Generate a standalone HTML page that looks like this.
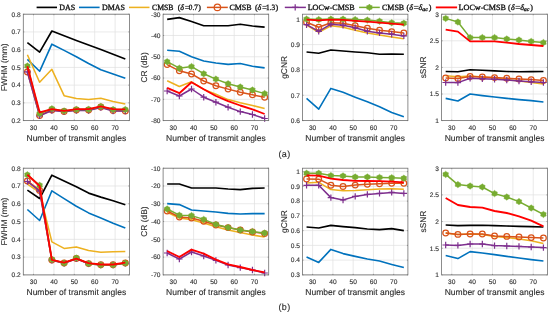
<!DOCTYPE html>
<html><head><meta charset="utf-8"><style>
html,body{margin:0;padding:0;background:#fff;width:550px;height:312px;overflow:hidden}
svg{display:block;font-family:"Liberation Sans",sans-serif;filter:blur(0.3px)}
.t{fill:#2a2a2a;stroke:#2a2a2a;stroke-width:0.12px}
.tk{fill:#333;stroke:#333;stroke-width:0.14px}
text{text-rendering:geometricPrecision}
.lg{font-family:"Liberation Serif",serif;fill:#111;stroke:#111;stroke-width:0.32px}
</style></head><body>
<svg width="550" height="312" viewBox="0 0 550 312">
<line x1="33.50" y1="14.20" x2="33.50" y2="120.60" stroke="#e0e0e0" stroke-width="0.7"/>
<line x1="53.91" y1="14.20" x2="53.91" y2="120.60" stroke="#e0e0e0" stroke-width="0.7"/>
<line x1="74.31" y1="14.20" x2="74.31" y2="120.60" stroke="#e0e0e0" stroke-width="0.7"/>
<line x1="94.71" y1="14.20" x2="94.71" y2="120.60" stroke="#e0e0e0" stroke-width="0.7"/>
<line x1="115.12" y1="14.20" x2="115.12" y2="120.60" stroke="#e0e0e0" stroke-width="0.7"/>
<line x1="23.30" y1="120.60" x2="129.40" y2="120.60" stroke="#e0e0e0" stroke-width="0.7"/>
<line x1="23.30" y1="102.87" x2="129.40" y2="102.87" stroke="#e0e0e0" stroke-width="0.7"/>
<line x1="23.30" y1="85.13" x2="129.40" y2="85.13" stroke="#e0e0e0" stroke-width="0.7"/>
<line x1="23.30" y1="67.40" x2="129.40" y2="67.40" stroke="#e0e0e0" stroke-width="0.7"/>
<line x1="23.30" y1="49.67" x2="129.40" y2="49.67" stroke="#e0e0e0" stroke-width="0.7"/>
<line x1="23.30" y1="31.93" x2="129.40" y2="31.93" stroke="#e0e0e0" stroke-width="0.7"/>
<line x1="23.30" y1="14.20" x2="129.40" y2="14.20" stroke="#e0e0e0" stroke-width="0.7"/>
<text x="33.50" y="129.90" font-size="6.6" text-anchor="middle" class="tk">30</text>
<path d="M33.50 120.60v-1.0M33.50 14.20v1.0" stroke="#707070" stroke-width="0.7"/>
<text x="53.91" y="129.90" font-size="6.6" text-anchor="middle" class="tk">40</text>
<path d="M53.91 120.60v-1.0M53.91 14.20v1.0" stroke="#707070" stroke-width="0.7"/>
<text x="74.31" y="129.90" font-size="6.6" text-anchor="middle" class="tk">50</text>
<path d="M74.31 120.60v-1.0M74.31 14.20v1.0" stroke="#707070" stroke-width="0.7"/>
<text x="94.71" y="129.90" font-size="6.6" text-anchor="middle" class="tk">60</text>
<path d="M94.71 120.60v-1.0M94.71 14.20v1.0" stroke="#707070" stroke-width="0.7"/>
<text x="115.12" y="129.90" font-size="6.6" text-anchor="middle" class="tk">70</text>
<path d="M115.12 120.60v-1.0M115.12 14.20v1.0" stroke="#707070" stroke-width="0.7"/>
<text x="20.70" y="122.95" font-size="6.6" text-anchor="end" class="tk">0.2</text>
<path d="M23.30 120.60h1.0M129.40 120.60h-1.0" stroke="#707070" stroke-width="0.7"/>
<text x="20.70" y="105.22" font-size="6.6" text-anchor="end" class="tk">0.3</text>
<path d="M23.30 102.87h1.0M129.40 102.87h-1.0" stroke="#707070" stroke-width="0.7"/>
<text x="20.70" y="87.48" font-size="6.6" text-anchor="end" class="tk">0.4</text>
<path d="M23.30 85.13h1.0M129.40 85.13h-1.0" stroke="#707070" stroke-width="0.7"/>
<text x="20.70" y="69.75" font-size="6.6" text-anchor="end" class="tk">0.5</text>
<path d="M23.30 67.40h1.0M129.40 67.40h-1.0" stroke="#707070" stroke-width="0.7"/>
<text x="20.70" y="52.02" font-size="6.6" text-anchor="end" class="tk">0.6</text>
<path d="M23.30 49.67h1.0M129.40 49.67h-1.0" stroke="#707070" stroke-width="0.7"/>
<text x="20.70" y="34.28" font-size="6.6" text-anchor="end" class="tk">0.7</text>
<path d="M23.30 31.93h1.0M129.40 31.93h-1.0" stroke="#707070" stroke-width="0.7"/>
<text x="20.70" y="16.55" font-size="6.6" text-anchor="end" class="tk">0.8</text>
<path d="M23.30 14.20h1.0M129.40 14.20h-1.0" stroke="#707070" stroke-width="0.7"/>
<text x="76.35" y="140.90" font-size="8.5" text-anchor="middle" class="t">Number of transmit angles</text>
<text transform="translate(7.40,67.40) rotate(-90)" x="0" y="0" font-size="8.4" text-anchor="middle" class="t">FWHM (mm)</text>
<polyline points="27.38,42.60 39.62,52.10 51.87,31.00 64.11,35.70 76.35,40.40 88.59,45.00 100.83,49.60 113.08,54.30 125.32,58.90" fill="none" stroke="#000000" stroke-width="1.65" stroke-linejoin="round"/>
<polyline points="27.38,59.40 39.62,71.30 51.87,44.20 64.11,50.40 76.35,56.70 88.59,63.50 100.83,69.80 113.08,74.10 125.32,78.20" fill="none" stroke="#0072BD" stroke-width="1.6" stroke-linejoin="round"/>
<polyline points="27.38,54.80 39.62,82.30 51.87,69.30 64.11,95.70 76.35,98.60 88.59,99.40 100.83,98.30 113.08,101.40 125.32,103.90" fill="none" stroke="#EDB120" stroke-width="1.55" stroke-linejoin="round"/>
<polyline points="27.38,72.00 39.62,115.40 51.87,110.00 64.11,111.50 76.35,110.00 88.59,110.00 100.83,107.00 113.08,110.50 125.32,111.00" fill="none" stroke="#D95319" stroke-width="1.5" stroke-linejoin="round"/>
<circle cx="27.38" cy="72.00" r="2.85" fill="none" stroke="#D95319" stroke-width="1.25"/>
<circle cx="39.62" cy="115.40" r="2.85" fill="none" stroke="#D95319" stroke-width="1.25"/>
<circle cx="51.87" cy="110.00" r="2.85" fill="none" stroke="#D95319" stroke-width="1.25"/>
<circle cx="64.11" cy="111.50" r="2.85" fill="none" stroke="#D95319" stroke-width="1.25"/>
<circle cx="76.35" cy="110.00" r="2.85" fill="none" stroke="#D95319" stroke-width="1.25"/>
<circle cx="88.59" cy="110.00" r="2.85" fill="none" stroke="#D95319" stroke-width="1.25"/>
<circle cx="100.83" cy="107.00" r="2.85" fill="none" stroke="#D95319" stroke-width="1.25"/>
<circle cx="113.08" cy="110.50" r="2.85" fill="none" stroke="#D95319" stroke-width="1.25"/>
<circle cx="125.32" cy="111.00" r="2.85" fill="none" stroke="#D95319" stroke-width="1.25"/>
<polyline points="27.38,71.80 39.62,115.90 51.87,110.50 64.11,111.50 76.35,110.50 88.59,110.50 100.83,107.50 113.08,111.00 125.32,111.00" fill="none" stroke="#7E2F8E" stroke-width="1.5" stroke-linejoin="round"/>
<path d="M24.18 71.80H30.58M27.38 68.60V75.00" stroke="#7E2F8E" stroke-width="1.2"/>
<path d="M36.42 115.90H42.82M39.62 112.70V119.10" stroke="#7E2F8E" stroke-width="1.2"/>
<path d="M48.67 110.50H55.07M51.87 107.30V113.70" stroke="#7E2F8E" stroke-width="1.2"/>
<path d="M60.91 111.50H67.31M64.11 108.30V114.70" stroke="#7E2F8E" stroke-width="1.2"/>
<path d="M73.15 110.50H79.55M76.35 107.30V113.70" stroke="#7E2F8E" stroke-width="1.2"/>
<path d="M85.39 110.50H91.79M88.59 107.30V113.70" stroke="#7E2F8E" stroke-width="1.2"/>
<path d="M97.63 107.50H104.03M100.83 104.30V110.70" stroke="#7E2F8E" stroke-width="1.2"/>
<path d="M109.88 111.00H116.28M113.08 107.80V114.20" stroke="#7E2F8E" stroke-width="1.2"/>
<path d="M122.12 111.00H128.52M125.32 107.80V114.20" stroke="#7E2F8E" stroke-width="1.2"/>
<polyline points="27.38,66.00 39.62,113.60 51.87,108.70 64.11,110.90 76.35,109.50 88.59,109.50 100.83,106.50 113.08,109.50 125.32,109.50" fill="none" stroke="#77AC30" stroke-width="1.5" stroke-linejoin="round"/>
<polygon points="27.38,62.75 28.66,63.79 30.20,64.38 29.93,66.00 30.20,67.62 28.66,68.21 27.38,69.25 26.11,68.21 24.57,67.62 24.83,66.00 24.57,64.38 26.11,63.79" fill="#77AC30" stroke="#77AC30" stroke-width="0.4"/>
<polygon points="39.62,110.35 40.90,111.39 42.44,111.97 42.17,113.60 42.44,115.22 40.90,115.81 39.62,116.85 38.35,115.81 36.81,115.22 37.07,113.60 36.81,111.97 38.35,111.39" fill="#77AC30" stroke="#77AC30" stroke-width="0.4"/>
<polygon points="51.87,105.45 53.14,106.49 54.68,107.08 54.42,108.70 54.68,110.33 53.14,110.91 51.87,111.95 50.59,110.91 49.05,110.33 49.32,108.70 49.05,107.08 50.59,106.49" fill="#77AC30" stroke="#77AC30" stroke-width="0.4"/>
<polygon points="64.11,107.65 65.38,108.69 66.92,109.28 66.66,110.90 66.92,112.53 65.38,113.11 64.11,114.15 62.83,113.11 61.29,112.53 61.56,110.90 61.29,109.28 62.83,108.69" fill="#77AC30" stroke="#77AC30" stroke-width="0.4"/>
<polygon points="76.35,106.25 77.63,107.29 79.16,107.88 78.90,109.50 79.16,111.12 77.63,111.71 76.35,112.75 75.08,111.71 73.54,111.12 73.80,109.50 73.54,107.88 75.08,107.29" fill="#77AC30" stroke="#77AC30" stroke-width="0.4"/>
<polygon points="88.59,106.25 89.87,107.29 91.41,107.88 91.14,109.50 91.41,111.12 89.87,111.71 88.59,112.75 87.32,111.71 85.78,111.12 86.04,109.50 85.78,107.88 87.32,107.29" fill="#77AC30" stroke="#77AC30" stroke-width="0.4"/>
<polygon points="100.83,103.25 102.11,104.29 103.65,104.88 103.38,106.50 103.65,108.12 102.11,108.71 100.83,109.75 99.56,108.71 98.02,108.12 98.28,106.50 98.02,104.88 99.56,104.29" fill="#77AC30" stroke="#77AC30" stroke-width="0.4"/>
<polygon points="113.08,106.25 114.35,107.29 115.89,107.88 115.63,109.50 115.89,111.12 114.35,111.71 113.08,112.75 111.80,111.71 110.26,111.12 110.53,109.50 110.26,107.88 111.80,107.29" fill="#77AC30" stroke="#77AC30" stroke-width="0.4"/>
<polygon points="125.32,106.25 126.59,107.29 128.13,107.88 127.87,109.50 128.13,111.12 126.59,111.71 125.32,112.75 124.04,111.71 122.50,111.12 122.77,109.50 122.50,107.88 124.04,107.29" fill="#77AC30" stroke="#77AC30" stroke-width="0.4"/>
<polyline points="27.38,66.30 39.62,112.30 51.87,109.10 64.11,110.90 76.35,109.10 88.59,109.10 100.83,106.40 113.08,109.10 125.32,109.40" fill="none" stroke="#FF0000" stroke-width="1.85" stroke-linejoin="round"/>
<rect x="23.30" y="14.20" width="106.10" height="106.40" fill="none" stroke="#707070" stroke-width="0.8"/>
<line x1="173.25" y1="14.20" x2="173.25" y2="120.60" stroke="#e0e0e0" stroke-width="0.7"/>
<line x1="193.56" y1="14.20" x2="193.56" y2="120.60" stroke="#e0e0e0" stroke-width="0.7"/>
<line x1="213.87" y1="14.20" x2="213.87" y2="120.60" stroke="#e0e0e0" stroke-width="0.7"/>
<line x1="234.18" y1="14.20" x2="234.18" y2="120.60" stroke="#e0e0e0" stroke-width="0.7"/>
<line x1="254.48" y1="14.20" x2="254.48" y2="120.60" stroke="#e0e0e0" stroke-width="0.7"/>
<line x1="163.10" y1="120.60" x2="268.70" y2="120.60" stroke="#e0e0e0" stroke-width="0.7"/>
<line x1="163.10" y1="99.32" x2="268.70" y2="99.32" stroke="#e0e0e0" stroke-width="0.7"/>
<line x1="163.10" y1="78.04" x2="268.70" y2="78.04" stroke="#e0e0e0" stroke-width="0.7"/>
<line x1="163.10" y1="56.76" x2="268.70" y2="56.76" stroke="#e0e0e0" stroke-width="0.7"/>
<line x1="163.10" y1="35.48" x2="268.70" y2="35.48" stroke="#e0e0e0" stroke-width="0.7"/>
<line x1="163.10" y1="14.20" x2="268.70" y2="14.20" stroke="#e0e0e0" stroke-width="0.7"/>
<text x="173.25" y="129.90" font-size="6.6" text-anchor="middle" class="tk">30</text>
<path d="M173.25 120.60v-1.0M173.25 14.20v1.0" stroke="#707070" stroke-width="0.7"/>
<text x="193.56" y="129.90" font-size="6.6" text-anchor="middle" class="tk">40</text>
<path d="M193.56 120.60v-1.0M193.56 14.20v1.0" stroke="#707070" stroke-width="0.7"/>
<text x="213.87" y="129.90" font-size="6.6" text-anchor="middle" class="tk">50</text>
<path d="M213.87 120.60v-1.0M213.87 14.20v1.0" stroke="#707070" stroke-width="0.7"/>
<text x="234.18" y="129.90" font-size="6.6" text-anchor="middle" class="tk">60</text>
<path d="M234.18 120.60v-1.0M234.18 14.20v1.0" stroke="#707070" stroke-width="0.7"/>
<text x="254.48" y="129.90" font-size="6.6" text-anchor="middle" class="tk">70</text>
<path d="M254.48 120.60v-1.0M254.48 14.20v1.0" stroke="#707070" stroke-width="0.7"/>
<text x="160.50" y="122.95" font-size="6.6" text-anchor="end" class="tk">-80</text>
<path d="M163.10 120.60h1.0M268.70 120.60h-1.0" stroke="#707070" stroke-width="0.7"/>
<text x="160.50" y="101.67" font-size="6.6" text-anchor="end" class="tk">-70</text>
<path d="M163.10 99.32h1.0M268.70 99.32h-1.0" stroke="#707070" stroke-width="0.7"/>
<text x="160.50" y="80.39" font-size="6.6" text-anchor="end" class="tk">-60</text>
<path d="M163.10 78.04h1.0M268.70 78.04h-1.0" stroke="#707070" stroke-width="0.7"/>
<text x="160.50" y="59.11" font-size="6.6" text-anchor="end" class="tk">-50</text>
<path d="M163.10 56.76h1.0M268.70 56.76h-1.0" stroke="#707070" stroke-width="0.7"/>
<text x="160.50" y="37.83" font-size="6.6" text-anchor="end" class="tk">-40</text>
<path d="M163.10 35.48h1.0M268.70 35.48h-1.0" stroke="#707070" stroke-width="0.7"/>
<text x="160.50" y="16.55" font-size="6.6" text-anchor="end" class="tk">-30</text>
<path d="M163.10 14.20h1.0M268.70 14.20h-1.0" stroke="#707070" stroke-width="0.7"/>
<text x="215.90" y="140.90" font-size="8.5" text-anchor="middle" class="t">Number of transmit angles</text>
<text transform="translate(147.20,67.40) rotate(-90)" x="0" y="0" font-size="8.4" text-anchor="middle" class="t">CR (dB)</text>
<polyline points="167.16,19.40 179.35,17.60 191.53,21.50 203.72,25.70 215.90,25.70 228.08,25.70 240.27,24.20 252.45,26.00 264.64,27.10" fill="none" stroke="#000000" stroke-width="1.65" stroke-linejoin="round"/>
<polyline points="167.16,50.30 179.35,51.20 191.53,56.70 203.72,61.00 215.90,63.00 228.08,64.40 240.27,63.50 252.45,66.30 264.64,67.90" fill="none" stroke="#0072BD" stroke-width="1.6" stroke-linejoin="round"/>
<polyline points="167.16,80.70 179.35,86.50 191.53,81.80 203.72,89.40 215.90,94.20 228.08,99.60 240.27,102.80 252.45,105.50 264.64,108.60" fill="none" stroke="#EDB120" stroke-width="1.55" stroke-linejoin="round"/>
<polyline points="167.16,64.60 179.35,70.80 191.53,73.90 203.72,81.00 215.90,85.70 228.08,89.10 240.27,92.30 252.45,94.80 264.64,97.20" fill="none" stroke="#D95319" stroke-width="1.5" stroke-linejoin="round"/>
<circle cx="167.16" cy="64.60" r="2.85" fill="none" stroke="#D95319" stroke-width="1.25"/>
<circle cx="179.35" cy="70.80" r="2.85" fill="none" stroke="#D95319" stroke-width="1.25"/>
<circle cx="191.53" cy="73.90" r="2.85" fill="none" stroke="#D95319" stroke-width="1.25"/>
<circle cx="203.72" cy="81.00" r="2.85" fill="none" stroke="#D95319" stroke-width="1.25"/>
<circle cx="215.90" cy="85.70" r="2.85" fill="none" stroke="#D95319" stroke-width="1.25"/>
<circle cx="228.08" cy="89.10" r="2.85" fill="none" stroke="#D95319" stroke-width="1.25"/>
<circle cx="240.27" cy="92.30" r="2.85" fill="none" stroke="#D95319" stroke-width="1.25"/>
<circle cx="252.45" cy="94.80" r="2.85" fill="none" stroke="#D95319" stroke-width="1.25"/>
<circle cx="264.64" cy="97.20" r="2.85" fill="none" stroke="#D95319" stroke-width="1.25"/>
<polyline points="167.16,91.00 179.35,96.00 191.53,89.00 203.72,97.20 215.90,102.20 228.08,107.20 240.27,111.60 252.45,114.50 264.64,118.50" fill="none" stroke="#7E2F8E" stroke-width="1.5" stroke-linejoin="round"/>
<path d="M163.96 91.00H170.36M167.16 87.80V94.20" stroke="#7E2F8E" stroke-width="1.2"/>
<path d="M176.15 96.00H182.55M179.35 92.80V99.20" stroke="#7E2F8E" stroke-width="1.2"/>
<path d="M188.33 89.00H194.73M191.53 85.80V92.20" stroke="#7E2F8E" stroke-width="1.2"/>
<path d="M200.52 97.20H206.92M203.72 94.00V100.40" stroke="#7E2F8E" stroke-width="1.2"/>
<path d="M212.70 102.20H219.10M215.90 99.00V105.40" stroke="#7E2F8E" stroke-width="1.2"/>
<path d="M224.88 107.20H231.28M228.08 104.00V110.40" stroke="#7E2F8E" stroke-width="1.2"/>
<path d="M237.07 111.60H243.47M240.27 108.40V114.80" stroke="#7E2F8E" stroke-width="1.2"/>
<path d="M249.25 114.50H255.65M252.45 111.30V117.70" stroke="#7E2F8E" stroke-width="1.2"/>
<path d="M261.44 118.50H267.84M264.64 115.30V121.70" stroke="#7E2F8E" stroke-width="1.2"/>
<polyline points="167.16,61.70 179.35,68.20 191.53,66.60 203.72,73.70 215.90,79.10 228.08,83.70 240.27,87.00 252.45,90.00 264.64,93.60" fill="none" stroke="#77AC30" stroke-width="1.5" stroke-linejoin="round"/>
<polygon points="167.16,58.45 168.44,59.49 169.98,60.08 169.71,61.70 169.98,63.33 168.44,63.91 167.16,64.95 165.89,63.91 164.35,63.33 164.61,61.70 164.35,60.08 165.89,59.49" fill="#77AC30" stroke="#77AC30" stroke-width="0.4"/>
<polygon points="179.35,64.95 180.62,65.99 182.16,66.58 181.90,68.20 182.16,69.83 180.62,70.41 179.35,71.45 178.07,70.41 176.53,69.83 176.80,68.20 176.53,66.58 178.07,65.99" fill="#77AC30" stroke="#77AC30" stroke-width="0.4"/>
<polygon points="191.53,63.35 192.81,64.39 194.35,64.97 194.08,66.60 194.35,68.22 192.81,68.81 191.53,69.85 190.26,68.81 188.72,68.22 188.98,66.60 188.72,64.97 190.26,64.39" fill="#77AC30" stroke="#77AC30" stroke-width="0.4"/>
<polygon points="203.72,70.45 204.99,71.49 206.53,72.08 206.27,73.70 206.53,75.33 204.99,75.91 203.72,76.95 202.44,75.91 200.90,75.33 201.17,73.70 200.90,72.08 202.44,71.49" fill="#77AC30" stroke="#77AC30" stroke-width="0.4"/>
<polygon points="215.90,75.85 217.17,76.89 218.71,77.47 218.45,79.10 218.71,80.72 217.17,81.31 215.90,82.35 214.62,81.31 213.09,80.72 213.35,79.10 213.09,77.47 214.62,76.89" fill="#77AC30" stroke="#77AC30" stroke-width="0.4"/>
<polygon points="228.08,80.45 229.36,81.49 230.90,82.08 230.63,83.70 230.90,85.33 229.36,85.91 228.08,86.95 226.81,85.91 225.27,85.33 225.53,83.70 225.27,82.08 226.81,81.49" fill="#77AC30" stroke="#77AC30" stroke-width="0.4"/>
<polygon points="240.27,83.75 241.54,84.79 243.08,85.38 242.82,87.00 243.08,88.62 241.54,89.21 240.27,90.25 238.99,89.21 237.45,88.62 237.72,87.00 237.45,85.38 238.99,84.79" fill="#77AC30" stroke="#77AC30" stroke-width="0.4"/>
<polygon points="252.45,86.75 253.73,87.79 255.27,88.38 255.00,90.00 255.27,91.62 253.73,92.21 252.45,93.25 251.18,92.21 249.64,91.62 249.90,90.00 249.64,88.38 251.18,87.79" fill="#77AC30" stroke="#77AC30" stroke-width="0.4"/>
<polygon points="264.64,90.35 265.91,91.39 267.45,91.97 267.19,93.60 267.45,95.22 265.91,95.81 264.64,96.85 263.36,95.81 261.82,95.22 262.09,93.60 261.82,91.97 263.36,91.39" fill="#77AC30" stroke="#77AC30" stroke-width="0.4"/>
<polyline points="167.16,87.80 179.35,93.20 191.53,82.20 203.72,89.20 215.90,96.00 228.08,101.20 240.27,105.50 252.45,109.30 264.64,114.00" fill="none" stroke="#FF0000" stroke-width="1.85" stroke-linejoin="round"/>
<rect x="163.10" y="14.20" width="105.60" height="106.40" fill="none" stroke="#707070" stroke-width="0.8"/>
<line x1="312.63" y1="14.20" x2="312.63" y2="120.60" stroke="#e0e0e0" stroke-width="0.7"/>
<line x1="332.90" y1="14.20" x2="332.90" y2="120.60" stroke="#e0e0e0" stroke-width="0.7"/>
<line x1="353.17" y1="14.20" x2="353.17" y2="120.60" stroke="#e0e0e0" stroke-width="0.7"/>
<line x1="373.44" y1="14.20" x2="373.44" y2="120.60" stroke="#e0e0e0" stroke-width="0.7"/>
<line x1="393.71" y1="14.20" x2="393.71" y2="120.60" stroke="#e0e0e0" stroke-width="0.7"/>
<line x1="302.50" y1="120.60" x2="407.90" y2="120.60" stroke="#e0e0e0" stroke-width="0.7"/>
<line x1="302.50" y1="95.27" x2="407.90" y2="95.27" stroke="#e0e0e0" stroke-width="0.7"/>
<line x1="302.50" y1="69.93" x2="407.90" y2="69.93" stroke="#e0e0e0" stroke-width="0.7"/>
<line x1="302.50" y1="44.60" x2="407.90" y2="44.60" stroke="#e0e0e0" stroke-width="0.7"/>
<line x1="302.50" y1="19.27" x2="407.90" y2="19.27" stroke="#e0e0e0" stroke-width="0.7"/>
<text x="312.63" y="129.90" font-size="6.6" text-anchor="middle" class="tk">30</text>
<path d="M312.63 120.60v-1.0M312.63 14.20v1.0" stroke="#707070" stroke-width="0.7"/>
<text x="332.90" y="129.90" font-size="6.6" text-anchor="middle" class="tk">40</text>
<path d="M332.90 120.60v-1.0M332.90 14.20v1.0" stroke="#707070" stroke-width="0.7"/>
<text x="353.17" y="129.90" font-size="6.6" text-anchor="middle" class="tk">50</text>
<path d="M353.17 120.60v-1.0M353.17 14.20v1.0" stroke="#707070" stroke-width="0.7"/>
<text x="373.44" y="129.90" font-size="6.6" text-anchor="middle" class="tk">60</text>
<path d="M373.44 120.60v-1.0M373.44 14.20v1.0" stroke="#707070" stroke-width="0.7"/>
<text x="393.71" y="129.90" font-size="6.6" text-anchor="middle" class="tk">70</text>
<path d="M393.71 120.60v-1.0M393.71 14.20v1.0" stroke="#707070" stroke-width="0.7"/>
<text x="299.90" y="122.95" font-size="6.6" text-anchor="end" class="tk">0.6</text>
<path d="M302.50 120.60h1.0M407.90 120.60h-1.0" stroke="#707070" stroke-width="0.7"/>
<text x="299.90" y="97.62" font-size="6.6" text-anchor="end" class="tk">0.7</text>
<path d="M302.50 95.27h1.0M407.90 95.27h-1.0" stroke="#707070" stroke-width="0.7"/>
<text x="299.90" y="72.28" font-size="6.6" text-anchor="end" class="tk">0.8</text>
<path d="M302.50 69.93h1.0M407.90 69.93h-1.0" stroke="#707070" stroke-width="0.7"/>
<text x="299.90" y="46.95" font-size="6.6" text-anchor="end" class="tk">0.9</text>
<path d="M302.50 44.60h1.0M407.90 44.60h-1.0" stroke="#707070" stroke-width="0.7"/>
<text x="299.90" y="21.62" font-size="6.6" text-anchor="end" class="tk">1</text>
<path d="M302.50 19.27h1.0M407.90 19.27h-1.0" stroke="#707070" stroke-width="0.7"/>
<text x="355.20" y="140.90" font-size="8.5" text-anchor="middle" class="t">Number of transmit angles</text>
<text transform="translate(286.60,67.40) rotate(-90)" x="0" y="0" font-size="8.4" text-anchor="middle" class="t">gCNR</text>
<polyline points="306.55,52.00 318.72,53.20 330.88,50.00 343.04,51.00 355.20,52.00 367.36,52.80 379.52,54.20 391.68,54.00 403.85,54.20" fill="none" stroke="#000000" stroke-width="1.65" stroke-linejoin="round"/>
<polyline points="306.55,98.30 318.72,109.10 330.88,88.40 343.04,92.30 355.20,97.20 367.36,101.80 379.52,106.80 391.68,112.50 403.85,116.70" fill="none" stroke="#0072BD" stroke-width="1.6" stroke-linejoin="round"/>
<polyline points="306.55,25.20 318.72,32.40 330.88,25.70 343.04,27.30 355.20,30.30 367.36,32.90 379.52,34.90 391.68,36.90 403.85,38.70" fill="none" stroke="#EDB120" stroke-width="1.55" stroke-linejoin="round"/>
<polyline points="306.55,22.20 318.72,27.30 330.88,22.70 343.04,23.20 355.20,25.80 367.36,28.30 379.52,30.30 391.68,31.60 403.85,32.90" fill="none" stroke="#D95319" stroke-width="1.5" stroke-linejoin="round"/>
<circle cx="306.55" cy="22.20" r="2.85" fill="none" stroke="#D95319" stroke-width="1.25"/>
<circle cx="318.72" cy="27.30" r="2.85" fill="none" stroke="#D95319" stroke-width="1.25"/>
<circle cx="330.88" cy="22.70" r="2.85" fill="none" stroke="#D95319" stroke-width="1.25"/>
<circle cx="343.04" cy="23.20" r="2.85" fill="none" stroke="#D95319" stroke-width="1.25"/>
<circle cx="355.20" cy="25.80" r="2.85" fill="none" stroke="#D95319" stroke-width="1.25"/>
<circle cx="367.36" cy="28.30" r="2.85" fill="none" stroke="#D95319" stroke-width="1.25"/>
<circle cx="379.52" cy="30.30" r="2.85" fill="none" stroke="#D95319" stroke-width="1.25"/>
<circle cx="391.68" cy="31.60" r="2.85" fill="none" stroke="#D95319" stroke-width="1.25"/>
<circle cx="403.85" cy="32.90" r="2.85" fill="none" stroke="#D95319" stroke-width="1.25"/>
<polyline points="306.55,24.70 318.72,31.30 330.88,24.20 343.04,25.20 355.20,27.80 367.36,31.30 379.52,32.90 391.68,34.20 403.85,35.90" fill="none" stroke="#7E2F8E" stroke-width="1.5" stroke-linejoin="round"/>
<path d="M303.35 24.70H309.75M306.55 21.50V27.90" stroke="#7E2F8E" stroke-width="1.2"/>
<path d="M315.52 31.30H321.92M318.72 28.10V34.50" stroke="#7E2F8E" stroke-width="1.2"/>
<path d="M327.68 24.20H334.08M330.88 21.00V27.40" stroke="#7E2F8E" stroke-width="1.2"/>
<path d="M339.84 25.20H346.24M343.04 22.00V28.40" stroke="#7E2F8E" stroke-width="1.2"/>
<path d="M352.00 27.80H358.40M355.20 24.60V31.00" stroke="#7E2F8E" stroke-width="1.2"/>
<path d="M364.16 31.30H370.56M367.36 28.10V34.50" stroke="#7E2F8E" stroke-width="1.2"/>
<path d="M376.32 32.90H382.72M379.52 29.70V36.10" stroke="#7E2F8E" stroke-width="1.2"/>
<path d="M388.48 34.20H394.88M391.68 31.00V37.40" stroke="#7E2F8E" stroke-width="1.2"/>
<path d="M400.65 35.90H407.05M403.85 32.70V39.10" stroke="#7E2F8E" stroke-width="1.2"/>
<polyline points="306.55,19.10 318.72,19.60 330.88,19.10 343.04,19.10 355.20,19.60 367.36,20.10 379.52,21.20 391.68,22.70 403.85,23.20" fill="none" stroke="#77AC30" stroke-width="1.5" stroke-linejoin="round"/>
<polygon points="306.55,15.85 307.83,16.89 309.37,17.48 309.10,19.10 309.37,20.73 307.83,21.31 306.55,22.35 305.28,21.31 303.74,20.73 304.00,19.10 303.74,17.48 305.28,16.89" fill="#77AC30" stroke="#77AC30" stroke-width="0.4"/>
<polygon points="318.72,16.35 319.99,17.39 321.53,17.98 321.27,19.60 321.53,21.23 319.99,21.81 318.72,22.85 317.44,21.81 315.90,21.23 316.17,19.60 315.90,17.98 317.44,17.39" fill="#77AC30" stroke="#77AC30" stroke-width="0.4"/>
<polygon points="330.88,15.85 332.15,16.89 333.69,17.48 333.43,19.10 333.69,20.73 332.15,21.31 330.88,22.35 329.60,21.31 328.06,20.73 328.33,19.10 328.06,17.48 329.60,16.89" fill="#77AC30" stroke="#77AC30" stroke-width="0.4"/>
<polygon points="343.04,15.85 344.31,16.89 345.85,17.48 345.59,19.10 345.85,20.73 344.31,21.31 343.04,22.35 341.76,21.31 340.22,20.73 340.49,19.10 340.22,17.48 341.76,16.89" fill="#77AC30" stroke="#77AC30" stroke-width="0.4"/>
<polygon points="355.20,16.35 356.47,17.39 358.01,17.98 357.75,19.60 358.01,21.23 356.47,21.81 355.20,22.85 353.93,21.81 352.39,21.23 352.65,19.60 352.39,17.98 353.93,17.39" fill="#77AC30" stroke="#77AC30" stroke-width="0.4"/>
<polygon points="367.36,16.85 368.64,17.89 370.18,18.48 369.91,20.10 370.18,21.73 368.64,22.31 367.36,23.35 366.09,22.31 364.55,21.73 364.81,20.10 364.55,18.48 366.09,17.89" fill="#77AC30" stroke="#77AC30" stroke-width="0.4"/>
<polygon points="379.52,17.95 380.80,18.99 382.34,19.57 382.07,21.20 382.34,22.82 380.80,23.41 379.52,24.45 378.25,23.41 376.71,22.82 376.97,21.20 376.71,19.57 378.25,18.99" fill="#77AC30" stroke="#77AC30" stroke-width="0.4"/>
<polygon points="391.68,19.45 392.96,20.49 394.50,21.07 394.23,22.70 394.50,24.32 392.96,24.91 391.68,25.95 390.41,24.91 388.87,24.32 389.13,22.70 388.87,21.07 390.41,20.49" fill="#77AC30" stroke="#77AC30" stroke-width="0.4"/>
<polygon points="403.85,19.95 405.12,20.99 406.66,21.57 406.40,23.20 406.66,24.82 405.12,25.41 403.85,26.45 402.57,25.41 401.03,24.82 401.30,23.20 401.03,21.57 402.57,20.99" fill="#77AC30" stroke="#77AC30" stroke-width="0.4"/>
<polyline points="306.55,19.60 318.72,20.40 330.88,19.60 343.04,19.90 355.20,20.90 367.36,21.70 379.52,22.70 391.68,23.70 403.85,24.70" fill="none" stroke="#FF0000" stroke-width="1.85" stroke-linejoin="round"/>
<rect x="302.50" y="14.20" width="105.40" height="106.40" fill="none" stroke="#707070" stroke-width="0.8"/>
<line x1="451.78" y1="14.20" x2="451.78" y2="120.60" stroke="#e0e0e0" stroke-width="0.7"/>
<line x1="472.15" y1="14.20" x2="472.15" y2="120.60" stroke="#e0e0e0" stroke-width="0.7"/>
<line x1="492.51" y1="14.20" x2="492.51" y2="120.60" stroke="#e0e0e0" stroke-width="0.7"/>
<line x1="512.88" y1="14.20" x2="512.88" y2="120.60" stroke="#e0e0e0" stroke-width="0.7"/>
<line x1="533.24" y1="14.20" x2="533.24" y2="120.60" stroke="#e0e0e0" stroke-width="0.7"/>
<line x1="441.60" y1="120.60" x2="547.50" y2="120.60" stroke="#e0e0e0" stroke-width="0.7"/>
<line x1="441.60" y1="94.00" x2="547.50" y2="94.00" stroke="#e0e0e0" stroke-width="0.7"/>
<line x1="441.60" y1="67.40" x2="547.50" y2="67.40" stroke="#e0e0e0" stroke-width="0.7"/>
<line x1="441.60" y1="40.80" x2="547.50" y2="40.80" stroke="#e0e0e0" stroke-width="0.7"/>
<line x1="441.60" y1="14.20" x2="547.50" y2="14.20" stroke="#e0e0e0" stroke-width="0.7"/>
<text x="451.78" y="129.90" font-size="6.6" text-anchor="middle" class="tk">30</text>
<path d="M451.78 120.60v-1.0M451.78 14.20v1.0" stroke="#707070" stroke-width="0.7"/>
<text x="472.15" y="129.90" font-size="6.6" text-anchor="middle" class="tk">40</text>
<path d="M472.15 120.60v-1.0M472.15 14.20v1.0" stroke="#707070" stroke-width="0.7"/>
<text x="492.51" y="129.90" font-size="6.6" text-anchor="middle" class="tk">50</text>
<path d="M492.51 120.60v-1.0M492.51 14.20v1.0" stroke="#707070" stroke-width="0.7"/>
<text x="512.88" y="129.90" font-size="6.6" text-anchor="middle" class="tk">60</text>
<path d="M512.88 120.60v-1.0M512.88 14.20v1.0" stroke="#707070" stroke-width="0.7"/>
<text x="533.24" y="129.90" font-size="6.6" text-anchor="middle" class="tk">70</text>
<path d="M533.24 120.60v-1.0M533.24 14.20v1.0" stroke="#707070" stroke-width="0.7"/>
<text x="439.00" y="122.95" font-size="6.6" text-anchor="end" class="tk">1</text>
<path d="M441.60 120.60h1.0M547.50 120.60h-1.0" stroke="#707070" stroke-width="0.7"/>
<text x="439.00" y="96.35" font-size="6.6" text-anchor="end" class="tk">1.5</text>
<path d="M441.60 94.00h1.0M547.50 94.00h-1.0" stroke="#707070" stroke-width="0.7"/>
<text x="439.00" y="69.75" font-size="6.6" text-anchor="end" class="tk">2</text>
<path d="M441.60 67.40h1.0M547.50 67.40h-1.0" stroke="#707070" stroke-width="0.7"/>
<text x="439.00" y="43.15" font-size="6.6" text-anchor="end" class="tk">2.5</text>
<path d="M441.60 40.80h1.0M547.50 40.80h-1.0" stroke="#707070" stroke-width="0.7"/>
<text x="439.00" y="16.55" font-size="6.6" text-anchor="end" class="tk">3</text>
<path d="M441.60 14.20h1.0M547.50 14.20h-1.0" stroke="#707070" stroke-width="0.7"/>
<text x="494.55" y="140.90" font-size="8.5" text-anchor="middle" class="t">Number of transmit angles</text>
<text transform="translate(425.70,67.40) rotate(-90)" x="0" y="0" font-size="8.4" text-anchor="middle" class="t">sSNR</text>
<polyline points="445.67,71.50 457.89,71.80 470.11,69.80 482.33,70.20 494.55,70.90 506.77,71.50 518.99,71.70 531.21,71.60 543.43,71.50" fill="none" stroke="#000000" stroke-width="1.65" stroke-linejoin="round"/>
<polyline points="445.67,98.40 457.89,101.00 470.11,94.00 482.33,95.60 494.55,97.00 506.77,98.40 518.99,99.60 531.21,100.60 543.43,102.00" fill="none" stroke="#0072BD" stroke-width="1.6" stroke-linejoin="round"/>
<polyline points="445.67,75.70 457.89,76.80 470.11,76.10 482.33,77.00 494.55,78.00 506.77,79.50 518.99,81.00 531.21,82.50 543.43,84.00" fill="none" stroke="#EDB120" stroke-width="1.55" stroke-linejoin="round"/>
<polyline points="445.67,78.00 457.89,78.50 470.11,76.40 482.33,77.00 494.55,77.60 506.77,78.20 518.99,78.90 531.21,79.60 543.43,80.40" fill="none" stroke="#D95319" stroke-width="1.5" stroke-linejoin="round"/>
<circle cx="445.67" cy="78.00" r="2.85" fill="none" stroke="#D95319" stroke-width="1.25"/>
<circle cx="457.89" cy="78.50" r="2.85" fill="none" stroke="#D95319" stroke-width="1.25"/>
<circle cx="470.11" cy="76.40" r="2.85" fill="none" stroke="#D95319" stroke-width="1.25"/>
<circle cx="482.33" cy="77.00" r="2.85" fill="none" stroke="#D95319" stroke-width="1.25"/>
<circle cx="494.55" cy="77.60" r="2.85" fill="none" stroke="#D95319" stroke-width="1.25"/>
<circle cx="506.77" cy="78.20" r="2.85" fill="none" stroke="#D95319" stroke-width="1.25"/>
<circle cx="518.99" cy="78.90" r="2.85" fill="none" stroke="#D95319" stroke-width="1.25"/>
<circle cx="531.21" cy="79.60" r="2.85" fill="none" stroke="#D95319" stroke-width="1.25"/>
<circle cx="543.43" cy="80.40" r="2.85" fill="none" stroke="#D95319" stroke-width="1.25"/>
<polyline points="445.67,82.50 457.89,82.60 470.11,78.30 482.33,78.70 494.55,79.30 506.77,80.00 518.99,81.00 531.21,81.80 543.43,82.50" fill="none" stroke="#7E2F8E" stroke-width="1.5" stroke-linejoin="round"/>
<path d="M442.47 82.50H448.87M445.67 79.30V85.70" stroke="#7E2F8E" stroke-width="1.2"/>
<path d="M454.69 82.60H461.09M457.89 79.40V85.80" stroke="#7E2F8E" stroke-width="1.2"/>
<path d="M466.91 78.30H473.31M470.11 75.10V81.50" stroke="#7E2F8E" stroke-width="1.2"/>
<path d="M479.13 78.70H485.53M482.33 75.50V81.90" stroke="#7E2F8E" stroke-width="1.2"/>
<path d="M491.35 79.30H497.75M494.55 76.10V82.50" stroke="#7E2F8E" stroke-width="1.2"/>
<path d="M503.57 80.00H509.97M506.77 76.80V83.20" stroke="#7E2F8E" stroke-width="1.2"/>
<path d="M515.79 81.00H522.19M518.99 77.80V84.20" stroke="#7E2F8E" stroke-width="1.2"/>
<path d="M528.01 81.80H534.41M531.21 78.60V85.00" stroke="#7E2F8E" stroke-width="1.2"/>
<path d="M540.23 82.50H546.63M543.43 79.30V85.70" stroke="#7E2F8E" stroke-width="1.2"/>
<polyline points="445.67,18.40 457.89,22.00 470.11,37.60 482.33,37.60 494.55,37.60 506.77,39.00 518.99,40.00 531.21,41.40 543.43,42.60" fill="none" stroke="#77AC30" stroke-width="1.5" stroke-linejoin="round"/>
<polygon points="445.67,15.15 446.95,16.19 448.49,16.77 448.22,18.40 448.49,20.02 446.95,20.61 445.67,21.65 444.40,20.61 442.86,20.02 443.12,18.40 442.86,16.77 444.40,16.19" fill="#77AC30" stroke="#77AC30" stroke-width="0.4"/>
<polygon points="457.89,18.75 459.17,19.79 460.71,20.38 460.44,22.00 460.71,23.62 459.17,24.21 457.89,25.25 456.62,24.21 455.08,23.62 455.34,22.00 455.08,20.38 456.62,19.79" fill="#77AC30" stroke="#77AC30" stroke-width="0.4"/>
<polygon points="470.11,34.35 471.39,35.39 472.93,35.98 472.66,37.60 472.93,39.23 471.39,39.81 470.11,40.85 468.84,39.81 467.30,39.23 467.56,37.60 467.30,35.98 468.84,35.39" fill="#77AC30" stroke="#77AC30" stroke-width="0.4"/>
<polygon points="482.33,34.35 483.61,35.39 485.15,35.98 484.88,37.60 485.15,39.23 483.61,39.81 482.33,40.85 481.06,39.81 479.52,39.23 479.78,37.60 479.52,35.98 481.06,35.39" fill="#77AC30" stroke="#77AC30" stroke-width="0.4"/>
<polygon points="494.55,34.35 495.82,35.39 497.36,35.98 497.10,37.60 497.36,39.23 495.82,39.81 494.55,40.85 493.28,39.81 491.74,39.23 492.00,37.60 491.74,35.98 493.28,35.39" fill="#77AC30" stroke="#77AC30" stroke-width="0.4"/>
<polygon points="506.77,35.75 508.04,36.79 509.58,37.38 509.32,39.00 509.58,40.62 508.04,41.21 506.77,42.25 505.49,41.21 503.95,40.62 504.22,39.00 503.95,37.38 505.49,36.79" fill="#77AC30" stroke="#77AC30" stroke-width="0.4"/>
<polygon points="518.99,36.75 520.26,37.79 521.80,38.38 521.54,40.00 521.80,41.62 520.26,42.21 518.99,43.25 517.71,42.21 516.17,41.62 516.44,40.00 516.17,38.38 517.71,37.79" fill="#77AC30" stroke="#77AC30" stroke-width="0.4"/>
<polygon points="531.21,38.15 532.48,39.19 534.02,39.77 533.76,41.40 534.02,43.02 532.48,43.61 531.21,44.65 529.93,43.61 528.39,43.02 528.66,41.40 528.39,39.77 529.93,39.19" fill="#77AC30" stroke="#77AC30" stroke-width="0.4"/>
<polygon points="543.43,39.35 544.70,40.39 546.24,40.98 545.98,42.60 546.24,44.23 544.70,44.81 543.43,45.85 542.15,44.81 540.61,44.23 540.88,42.60 540.61,40.98 542.15,40.39" fill="#77AC30" stroke="#77AC30" stroke-width="0.4"/>
<polyline points="445.67,29.60 457.89,31.60 470.11,41.40 482.33,41.40 494.55,41.40 506.77,42.60 518.99,44.00 531.21,45.00 543.43,46.00" fill="none" stroke="#FF0000" stroke-width="1.85" stroke-linejoin="round"/>
<rect x="441.60" y="14.20" width="105.90" height="106.40" fill="none" stroke="#707070" stroke-width="0.8"/>
<line x1="33.50" y1="168.20" x2="33.50" y2="274.90" stroke="#e0e0e0" stroke-width="0.7"/>
<line x1="53.91" y1="168.20" x2="53.91" y2="274.90" stroke="#e0e0e0" stroke-width="0.7"/>
<line x1="74.31" y1="168.20" x2="74.31" y2="274.90" stroke="#e0e0e0" stroke-width="0.7"/>
<line x1="94.71" y1="168.20" x2="94.71" y2="274.90" stroke="#e0e0e0" stroke-width="0.7"/>
<line x1="115.12" y1="168.20" x2="115.12" y2="274.90" stroke="#e0e0e0" stroke-width="0.7"/>
<line x1="23.30" y1="274.90" x2="129.40" y2="274.90" stroke="#e0e0e0" stroke-width="0.7"/>
<line x1="23.30" y1="257.12" x2="129.40" y2="257.12" stroke="#e0e0e0" stroke-width="0.7"/>
<line x1="23.30" y1="239.33" x2="129.40" y2="239.33" stroke="#e0e0e0" stroke-width="0.7"/>
<line x1="23.30" y1="221.55" x2="129.40" y2="221.55" stroke="#e0e0e0" stroke-width="0.7"/>
<line x1="23.30" y1="203.77" x2="129.40" y2="203.77" stroke="#e0e0e0" stroke-width="0.7"/>
<line x1="23.30" y1="185.98" x2="129.40" y2="185.98" stroke="#e0e0e0" stroke-width="0.7"/>
<line x1="23.30" y1="168.20" x2="129.40" y2="168.20" stroke="#e0e0e0" stroke-width="0.7"/>
<text x="33.50" y="284.20" font-size="6.6" text-anchor="middle" class="tk">30</text>
<path d="M33.50 274.90v-1.0M33.50 168.20v1.0" stroke="#707070" stroke-width="0.7"/>
<text x="53.91" y="284.20" font-size="6.6" text-anchor="middle" class="tk">40</text>
<path d="M53.91 274.90v-1.0M53.91 168.20v1.0" stroke="#707070" stroke-width="0.7"/>
<text x="74.31" y="284.20" font-size="6.6" text-anchor="middle" class="tk">50</text>
<path d="M74.31 274.90v-1.0M74.31 168.20v1.0" stroke="#707070" stroke-width="0.7"/>
<text x="94.71" y="284.20" font-size="6.6" text-anchor="middle" class="tk">60</text>
<path d="M94.71 274.90v-1.0M94.71 168.20v1.0" stroke="#707070" stroke-width="0.7"/>
<text x="115.12" y="284.20" font-size="6.6" text-anchor="middle" class="tk">70</text>
<path d="M115.12 274.90v-1.0M115.12 168.20v1.0" stroke="#707070" stroke-width="0.7"/>
<text x="20.70" y="277.25" font-size="6.6" text-anchor="end" class="tk">0.2</text>
<path d="M23.30 274.90h1.0M129.40 274.90h-1.0" stroke="#707070" stroke-width="0.7"/>
<text x="20.70" y="259.47" font-size="6.6" text-anchor="end" class="tk">0.3</text>
<path d="M23.30 257.12h1.0M129.40 257.12h-1.0" stroke="#707070" stroke-width="0.7"/>
<text x="20.70" y="241.68" font-size="6.6" text-anchor="end" class="tk">0.4</text>
<path d="M23.30 239.33h1.0M129.40 239.33h-1.0" stroke="#707070" stroke-width="0.7"/>
<text x="20.70" y="223.90" font-size="6.6" text-anchor="end" class="tk">0.5</text>
<path d="M23.30 221.55h1.0M129.40 221.55h-1.0" stroke="#707070" stroke-width="0.7"/>
<text x="20.70" y="206.12" font-size="6.6" text-anchor="end" class="tk">0.6</text>
<path d="M23.30 203.77h1.0M129.40 203.77h-1.0" stroke="#707070" stroke-width="0.7"/>
<text x="20.70" y="188.33" font-size="6.6" text-anchor="end" class="tk">0.7</text>
<path d="M23.30 185.98h1.0M129.40 185.98h-1.0" stroke="#707070" stroke-width="0.7"/>
<text x="20.70" y="170.55" font-size="6.6" text-anchor="end" class="tk">0.8</text>
<path d="M23.30 168.20h1.0M129.40 168.20h-1.0" stroke="#707070" stroke-width="0.7"/>
<text x="76.35" y="295.20" font-size="8.5" text-anchor="middle" class="t">Number of transmit angles</text>
<text transform="translate(7.40,221.55) rotate(-90)" x="0" y="0" font-size="8.4" text-anchor="middle" class="t">FWHM (mm)</text>
<polyline points="27.38,190.10 39.62,198.50 51.87,175.20 64.11,180.90 76.35,186.80 88.59,193.10 100.83,197.10 113.08,200.80 125.32,204.80" fill="none" stroke="#000000" stroke-width="1.65" stroke-linejoin="round"/>
<polyline points="27.38,209.50 39.62,220.50 51.87,190.80 64.11,198.60 76.35,206.30 88.59,212.90 100.83,217.90 113.08,223.20 125.32,228.10" fill="none" stroke="#0072BD" stroke-width="1.6" stroke-linejoin="round"/>
<polyline points="27.38,184.20 39.62,192.40 51.87,241.90 64.11,248.40 76.35,246.90 88.59,250.50 100.83,252.30 113.08,251.80 125.32,251.40" fill="none" stroke="#EDB120" stroke-width="1.55" stroke-linejoin="round"/>
<polyline points="27.38,180.90 39.62,190.40 51.87,260.00 64.11,263.00 76.35,258.50 88.59,263.60 100.83,264.80 113.08,264.80 125.32,263.00" fill="none" stroke="#D95319" stroke-width="1.5" stroke-linejoin="round"/>
<circle cx="27.38" cy="180.90" r="2.85" fill="none" stroke="#D95319" stroke-width="1.25"/>
<circle cx="39.62" cy="190.40" r="2.85" fill="none" stroke="#D95319" stroke-width="1.25"/>
<circle cx="51.87" cy="260.00" r="2.85" fill="none" stroke="#D95319" stroke-width="1.25"/>
<circle cx="64.11" cy="263.00" r="2.85" fill="none" stroke="#D95319" stroke-width="1.25"/>
<circle cx="76.35" cy="258.50" r="2.85" fill="none" stroke="#D95319" stroke-width="1.25"/>
<circle cx="88.59" cy="263.60" r="2.85" fill="none" stroke="#D95319" stroke-width="1.25"/>
<circle cx="100.83" cy="264.80" r="2.85" fill="none" stroke="#D95319" stroke-width="1.25"/>
<circle cx="113.08" cy="264.80" r="2.85" fill="none" stroke="#D95319" stroke-width="1.25"/>
<circle cx="125.32" cy="263.00" r="2.85" fill="none" stroke="#D95319" stroke-width="1.25"/>
<polyline points="27.38,181.50 39.62,191.20 51.87,260.20 64.11,263.20 76.35,258.80 88.59,263.80 100.83,265.00 113.08,265.00 125.32,263.30" fill="none" stroke="#7E2F8E" stroke-width="1.5" stroke-linejoin="round"/>
<path d="M24.18 181.50H30.58M27.38 178.30V184.70" stroke="#7E2F8E" stroke-width="1.2"/>
<path d="M36.42 191.20H42.82M39.62 188.00V194.40" stroke="#7E2F8E" stroke-width="1.2"/>
<path d="M48.67 260.20H55.07M51.87 257.00V263.40" stroke="#7E2F8E" stroke-width="1.2"/>
<path d="M60.91 263.20H67.31M64.11 260.00V266.40" stroke="#7E2F8E" stroke-width="1.2"/>
<path d="M73.15 258.80H79.55M76.35 255.60V262.00" stroke="#7E2F8E" stroke-width="1.2"/>
<path d="M85.39 263.80H91.79M88.59 260.60V267.00" stroke="#7E2F8E" stroke-width="1.2"/>
<path d="M97.63 265.00H104.03M100.83 261.80V268.20" stroke="#7E2F8E" stroke-width="1.2"/>
<path d="M109.88 265.00H116.28M113.08 261.80V268.20" stroke="#7E2F8E" stroke-width="1.2"/>
<path d="M122.12 263.30H128.52M125.32 260.10V266.50" stroke="#7E2F8E" stroke-width="1.2"/>
<polyline points="27.38,174.80 39.62,185.30 51.87,259.50 64.11,263.10 76.35,258.00 88.59,263.60 100.83,264.90 113.08,264.90 125.32,263.10" fill="none" stroke="#77AC30" stroke-width="1.5" stroke-linejoin="round"/>
<polygon points="27.38,171.55 28.66,172.59 30.20,173.18 29.93,174.80 30.20,176.43 28.66,177.01 27.38,178.05 26.11,177.01 24.57,176.43 24.83,174.80 24.57,173.18 26.11,172.59" fill="#77AC30" stroke="#77AC30" stroke-width="0.4"/>
<polygon points="39.62,182.05 40.90,183.09 42.44,183.68 42.17,185.30 42.44,186.93 40.90,187.51 39.62,188.55 38.35,187.51 36.81,186.93 37.07,185.30 36.81,183.68 38.35,183.09" fill="#77AC30" stroke="#77AC30" stroke-width="0.4"/>
<polygon points="51.87,256.25 53.14,257.29 54.68,257.88 54.42,259.50 54.68,261.12 53.14,261.71 51.87,262.75 50.59,261.71 49.05,261.12 49.32,259.50 49.05,257.88 50.59,257.29" fill="#77AC30" stroke="#77AC30" stroke-width="0.4"/>
<polygon points="64.11,259.85 65.38,260.89 66.92,261.48 66.66,263.10 66.92,264.73 65.38,265.31 64.11,266.35 62.83,265.31 61.29,264.73 61.56,263.10 61.29,261.48 62.83,260.89" fill="#77AC30" stroke="#77AC30" stroke-width="0.4"/>
<polygon points="76.35,254.75 77.63,255.79 79.16,256.38 78.90,258.00 79.16,259.62 77.63,260.21 76.35,261.25 75.08,260.21 73.54,259.62 73.80,258.00 73.54,256.38 75.08,255.79" fill="#77AC30" stroke="#77AC30" stroke-width="0.4"/>
<polygon points="88.59,260.35 89.87,261.39 91.41,261.98 91.14,263.60 91.41,265.23 89.87,265.81 88.59,266.85 87.32,265.81 85.78,265.23 86.04,263.60 85.78,261.98 87.32,261.39" fill="#77AC30" stroke="#77AC30" stroke-width="0.4"/>
<polygon points="100.83,261.65 102.11,262.69 103.65,263.27 103.38,264.90 103.65,266.52 102.11,267.11 100.83,268.15 99.56,267.11 98.02,266.52 98.28,264.90 98.02,263.27 99.56,262.69" fill="#77AC30" stroke="#77AC30" stroke-width="0.4"/>
<polygon points="113.08,261.65 114.35,262.69 115.89,263.27 115.63,264.90 115.89,266.52 114.35,267.11 113.08,268.15 111.80,267.11 110.26,266.52 110.53,264.90 110.26,263.27 111.80,262.69" fill="#77AC30" stroke="#77AC30" stroke-width="0.4"/>
<polygon points="125.32,259.85 126.59,260.89 128.13,261.48 127.87,263.10 128.13,264.73 126.59,265.31 125.32,266.35 124.04,265.31 122.50,264.73 122.77,263.10 122.50,261.48 124.04,260.89" fill="#77AC30" stroke="#77AC30" stroke-width="0.4"/>
<polyline points="27.38,174.80 39.62,186.00 51.87,259.80 64.11,262.70 76.35,258.60 88.59,263.10 100.83,264.50 113.08,264.50 125.32,262.70" fill="none" stroke="#FF0000" stroke-width="1.85" stroke-linejoin="round"/>
<rect x="23.30" y="168.20" width="106.10" height="106.70" fill="none" stroke="#707070" stroke-width="0.8"/>
<line x1="173.25" y1="168.20" x2="173.25" y2="274.90" stroke="#e0e0e0" stroke-width="0.7"/>
<line x1="193.56" y1="168.20" x2="193.56" y2="274.90" stroke="#e0e0e0" stroke-width="0.7"/>
<line x1="213.87" y1="168.20" x2="213.87" y2="274.90" stroke="#e0e0e0" stroke-width="0.7"/>
<line x1="234.18" y1="168.20" x2="234.18" y2="274.90" stroke="#e0e0e0" stroke-width="0.7"/>
<line x1="254.48" y1="168.20" x2="254.48" y2="274.90" stroke="#e0e0e0" stroke-width="0.7"/>
<line x1="163.10" y1="274.90" x2="268.70" y2="274.90" stroke="#e0e0e0" stroke-width="0.7"/>
<line x1="163.10" y1="257.12" x2="268.70" y2="257.12" stroke="#e0e0e0" stroke-width="0.7"/>
<line x1="163.10" y1="239.33" x2="268.70" y2="239.33" stroke="#e0e0e0" stroke-width="0.7"/>
<line x1="163.10" y1="221.55" x2="268.70" y2="221.55" stroke="#e0e0e0" stroke-width="0.7"/>
<line x1="163.10" y1="203.77" x2="268.70" y2="203.77" stroke="#e0e0e0" stroke-width="0.7"/>
<line x1="163.10" y1="185.98" x2="268.70" y2="185.98" stroke="#e0e0e0" stroke-width="0.7"/>
<line x1="163.10" y1="168.20" x2="268.70" y2="168.20" stroke="#e0e0e0" stroke-width="0.7"/>
<text x="173.25" y="284.20" font-size="6.6" text-anchor="middle" class="tk">30</text>
<path d="M173.25 274.90v-1.0M173.25 168.20v1.0" stroke="#707070" stroke-width="0.7"/>
<text x="193.56" y="284.20" font-size="6.6" text-anchor="middle" class="tk">40</text>
<path d="M193.56 274.90v-1.0M193.56 168.20v1.0" stroke="#707070" stroke-width="0.7"/>
<text x="213.87" y="284.20" font-size="6.6" text-anchor="middle" class="tk">50</text>
<path d="M213.87 274.90v-1.0M213.87 168.20v1.0" stroke="#707070" stroke-width="0.7"/>
<text x="234.18" y="284.20" font-size="6.6" text-anchor="middle" class="tk">60</text>
<path d="M234.18 274.90v-1.0M234.18 168.20v1.0" stroke="#707070" stroke-width="0.7"/>
<text x="254.48" y="284.20" font-size="6.6" text-anchor="middle" class="tk">70</text>
<path d="M254.48 274.90v-1.0M254.48 168.20v1.0" stroke="#707070" stroke-width="0.7"/>
<text x="160.50" y="277.25" font-size="6.6" text-anchor="end" class="tk">-70</text>
<path d="M163.10 274.90h1.0M268.70 274.90h-1.0" stroke="#707070" stroke-width="0.7"/>
<text x="160.50" y="259.47" font-size="6.6" text-anchor="end" class="tk">-60</text>
<path d="M163.10 257.12h1.0M268.70 257.12h-1.0" stroke="#707070" stroke-width="0.7"/>
<text x="160.50" y="241.68" font-size="6.6" text-anchor="end" class="tk">-50</text>
<path d="M163.10 239.33h1.0M268.70 239.33h-1.0" stroke="#707070" stroke-width="0.7"/>
<text x="160.50" y="223.90" font-size="6.6" text-anchor="end" class="tk">-40</text>
<path d="M163.10 221.55h1.0M268.70 221.55h-1.0" stroke="#707070" stroke-width="0.7"/>
<text x="160.50" y="206.12" font-size="6.6" text-anchor="end" class="tk">-30</text>
<path d="M163.10 203.77h1.0M268.70 203.77h-1.0" stroke="#707070" stroke-width="0.7"/>
<text x="160.50" y="188.33" font-size="6.6" text-anchor="end" class="tk">-20</text>
<path d="M163.10 185.98h1.0M268.70 185.98h-1.0" stroke="#707070" stroke-width="0.7"/>
<text x="160.50" y="170.55" font-size="6.6" text-anchor="end" class="tk">-10</text>
<path d="M163.10 168.20h1.0M268.70 168.20h-1.0" stroke="#707070" stroke-width="0.7"/>
<text x="215.90" y="295.20" font-size="8.5" text-anchor="middle" class="t">Number of transmit angles</text>
<text transform="translate(147.20,221.55) rotate(-90)" x="0" y="0" font-size="8.4" text-anchor="middle" class="t">CR (dB)</text>
<polyline points="167.16,184.00 179.35,184.00 191.53,188.00 203.72,188.00 215.90,188.00 228.08,189.00 240.27,189.60 252.45,188.40 264.64,188.00" fill="none" stroke="#000000" stroke-width="1.65" stroke-linejoin="round"/>
<polyline points="167.16,203.60 179.35,204.60 191.53,210.00 203.72,211.00 215.90,212.00 228.08,213.40 240.27,214.00 252.45,213.60 264.64,213.60" fill="none" stroke="#0072BD" stroke-width="1.6" stroke-linejoin="round"/>
<polyline points="167.16,212.40 179.35,218.00 191.53,219.80 203.72,223.00 215.90,226.80 228.08,230.00 240.27,232.60 252.45,235.00 264.64,237.00" fill="none" stroke="#EDB120" stroke-width="1.55" stroke-linejoin="round"/>
<polyline points="167.16,211.00 179.35,217.00 191.53,218.00 203.72,221.30 215.90,225.00 228.08,227.60 240.27,230.00 252.45,232.00 264.64,233.60" fill="none" stroke="#D95319" stroke-width="1.5" stroke-linejoin="round"/>
<circle cx="167.16" cy="211.00" r="2.85" fill="none" stroke="#D95319" stroke-width="1.25"/>
<circle cx="179.35" cy="217.00" r="2.85" fill="none" stroke="#D95319" stroke-width="1.25"/>
<circle cx="191.53" cy="218.00" r="2.85" fill="none" stroke="#D95319" stroke-width="1.25"/>
<circle cx="203.72" cy="221.30" r="2.85" fill="none" stroke="#D95319" stroke-width="1.25"/>
<circle cx="215.90" cy="225.00" r="2.85" fill="none" stroke="#D95319" stroke-width="1.25"/>
<circle cx="228.08" cy="227.60" r="2.85" fill="none" stroke="#D95319" stroke-width="1.25"/>
<circle cx="240.27" cy="230.00" r="2.85" fill="none" stroke="#D95319" stroke-width="1.25"/>
<circle cx="252.45" cy="232.00" r="2.85" fill="none" stroke="#D95319" stroke-width="1.25"/>
<circle cx="264.64" cy="233.60" r="2.85" fill="none" stroke="#D95319" stroke-width="1.25"/>
<polyline points="167.16,253.00 179.35,259.00 191.53,252.00 203.72,256.00 215.90,260.40 228.08,265.00 240.27,267.60 252.45,270.00 264.64,273.00" fill="none" stroke="#7E2F8E" stroke-width="1.5" stroke-linejoin="round"/>
<path d="M163.96 253.00H170.36M167.16 249.80V256.20" stroke="#7E2F8E" stroke-width="1.2"/>
<path d="M176.15 259.00H182.55M179.35 255.80V262.20" stroke="#7E2F8E" stroke-width="1.2"/>
<path d="M188.33 252.00H194.73M191.53 248.80V255.20" stroke="#7E2F8E" stroke-width="1.2"/>
<path d="M200.52 256.00H206.92M203.72 252.80V259.20" stroke="#7E2F8E" stroke-width="1.2"/>
<path d="M212.70 260.40H219.10M215.90 257.20V263.60" stroke="#7E2F8E" stroke-width="1.2"/>
<path d="M224.88 265.00H231.28M228.08 261.80V268.20" stroke="#7E2F8E" stroke-width="1.2"/>
<path d="M237.07 267.60H243.47M240.27 264.40V270.80" stroke="#7E2F8E" stroke-width="1.2"/>
<path d="M249.25 270.00H255.65M252.45 266.80V273.20" stroke="#7E2F8E" stroke-width="1.2"/>
<path d="M261.44 273.00H267.84M264.64 269.80V276.20" stroke="#7E2F8E" stroke-width="1.2"/>
<polyline points="167.16,209.00 179.35,215.20 191.53,215.60 203.72,219.40 215.90,224.40 228.08,227.50 240.27,230.00 252.45,231.60 264.64,233.00" fill="none" stroke="#77AC30" stroke-width="1.5" stroke-linejoin="round"/>
<polygon points="167.16,205.75 168.44,206.79 169.98,207.38 169.71,209.00 169.98,210.62 168.44,211.21 167.16,212.25 165.89,211.21 164.35,210.62 164.61,209.00 164.35,207.38 165.89,206.79" fill="#77AC30" stroke="#77AC30" stroke-width="0.4"/>
<polygon points="179.35,211.95 180.62,212.99 182.16,213.57 181.90,215.20 182.16,216.82 180.62,217.41 179.35,218.45 178.07,217.41 176.53,216.82 176.80,215.20 176.53,213.57 178.07,212.99" fill="#77AC30" stroke="#77AC30" stroke-width="0.4"/>
<polygon points="191.53,212.35 192.81,213.39 194.35,213.97 194.08,215.60 194.35,217.22 192.81,217.81 191.53,218.85 190.26,217.81 188.72,217.22 188.98,215.60 188.72,213.97 190.26,213.39" fill="#77AC30" stroke="#77AC30" stroke-width="0.4"/>
<polygon points="203.72,216.15 204.99,217.19 206.53,217.78 206.27,219.40 206.53,221.03 204.99,221.61 203.72,222.65 202.44,221.61 200.90,221.03 201.17,219.40 200.90,217.78 202.44,217.19" fill="#77AC30" stroke="#77AC30" stroke-width="0.4"/>
<polygon points="215.90,221.15 217.17,222.19 218.71,222.78 218.45,224.40 218.71,226.03 217.17,226.61 215.90,227.65 214.62,226.61 213.09,226.03 213.35,224.40 213.09,222.78 214.62,222.19" fill="#77AC30" stroke="#77AC30" stroke-width="0.4"/>
<polygon points="228.08,224.25 229.36,225.29 230.90,225.88 230.63,227.50 230.90,229.12 229.36,229.71 228.08,230.75 226.81,229.71 225.27,229.12 225.53,227.50 225.27,225.88 226.81,225.29" fill="#77AC30" stroke="#77AC30" stroke-width="0.4"/>
<polygon points="240.27,226.75 241.54,227.79 243.08,228.38 242.82,230.00 243.08,231.62 241.54,232.21 240.27,233.25 238.99,232.21 237.45,231.62 237.72,230.00 237.45,228.38 238.99,227.79" fill="#77AC30" stroke="#77AC30" stroke-width="0.4"/>
<polygon points="252.45,228.35 253.73,229.39 255.27,229.97 255.00,231.60 255.27,233.22 253.73,233.81 252.45,234.85 251.18,233.81 249.64,233.22 249.90,231.60 249.64,229.97 251.18,229.39" fill="#77AC30" stroke="#77AC30" stroke-width="0.4"/>
<polygon points="264.64,229.75 265.91,230.79 267.45,231.38 267.19,233.00 267.45,234.62 265.91,235.21 264.64,236.25 263.36,235.21 261.82,234.62 262.09,233.00 261.82,231.38 263.36,230.79" fill="#77AC30" stroke="#77AC30" stroke-width="0.4"/>
<polyline points="167.16,251.00 179.35,257.00 191.53,249.60 203.72,253.60 215.90,259.60 228.08,264.40 240.27,267.00 252.45,270.00 264.64,272.40" fill="none" stroke="#FF0000" stroke-width="1.85" stroke-linejoin="round"/>
<rect x="163.10" y="168.20" width="105.60" height="106.70" fill="none" stroke="#707070" stroke-width="0.8"/>
<line x1="312.63" y1="168.20" x2="312.63" y2="274.90" stroke="#e0e0e0" stroke-width="0.7"/>
<line x1="332.90" y1="168.20" x2="332.90" y2="274.90" stroke="#e0e0e0" stroke-width="0.7"/>
<line x1="353.17" y1="168.20" x2="353.17" y2="274.90" stroke="#e0e0e0" stroke-width="0.7"/>
<line x1="373.44" y1="168.20" x2="373.44" y2="274.90" stroke="#e0e0e0" stroke-width="0.7"/>
<line x1="393.71" y1="168.20" x2="393.71" y2="274.90" stroke="#e0e0e0" stroke-width="0.7"/>
<line x1="302.50" y1="274.90" x2="407.90" y2="274.90" stroke="#e0e0e0" stroke-width="0.7"/>
<line x1="302.50" y1="260.14" x2="407.90" y2="260.14" stroke="#e0e0e0" stroke-width="0.7"/>
<line x1="302.50" y1="245.38" x2="407.90" y2="245.38" stroke="#e0e0e0" stroke-width="0.7"/>
<line x1="302.50" y1="230.63" x2="407.90" y2="230.63" stroke="#e0e0e0" stroke-width="0.7"/>
<line x1="302.50" y1="215.87" x2="407.90" y2="215.87" stroke="#e0e0e0" stroke-width="0.7"/>
<line x1="302.50" y1="201.11" x2="407.90" y2="201.11" stroke="#e0e0e0" stroke-width="0.7"/>
<line x1="302.50" y1="186.35" x2="407.90" y2="186.35" stroke="#e0e0e0" stroke-width="0.7"/>
<line x1="302.50" y1="171.59" x2="407.90" y2="171.59" stroke="#e0e0e0" stroke-width="0.7"/>
<text x="312.63" y="284.20" font-size="6.6" text-anchor="middle" class="tk">30</text>
<path d="M312.63 274.90v-1.0M312.63 168.20v1.0" stroke="#707070" stroke-width="0.7"/>
<text x="332.90" y="284.20" font-size="6.6" text-anchor="middle" class="tk">40</text>
<path d="M332.90 274.90v-1.0M332.90 168.20v1.0" stroke="#707070" stroke-width="0.7"/>
<text x="353.17" y="284.20" font-size="6.6" text-anchor="middle" class="tk">50</text>
<path d="M353.17 274.90v-1.0M353.17 168.20v1.0" stroke="#707070" stroke-width="0.7"/>
<text x="373.44" y="284.20" font-size="6.6" text-anchor="middle" class="tk">60</text>
<path d="M373.44 274.90v-1.0M373.44 168.20v1.0" stroke="#707070" stroke-width="0.7"/>
<text x="393.71" y="284.20" font-size="6.6" text-anchor="middle" class="tk">70</text>
<path d="M393.71 274.90v-1.0M393.71 168.20v1.0" stroke="#707070" stroke-width="0.7"/>
<text x="299.90" y="277.25" font-size="6.6" text-anchor="end" class="tk">0.3</text>
<path d="M302.50 274.90h1.0M407.90 274.90h-1.0" stroke="#707070" stroke-width="0.7"/>
<text x="299.90" y="262.49" font-size="6.6" text-anchor="end" class="tk">0.4</text>
<path d="M302.50 260.14h1.0M407.90 260.14h-1.0" stroke="#707070" stroke-width="0.7"/>
<text x="299.90" y="247.73" font-size="6.6" text-anchor="end" class="tk">0.5</text>
<path d="M302.50 245.38h1.0M407.90 245.38h-1.0" stroke="#707070" stroke-width="0.7"/>
<text x="299.90" y="232.98" font-size="6.6" text-anchor="end" class="tk">0.6</text>
<path d="M302.50 230.63h1.0M407.90 230.63h-1.0" stroke="#707070" stroke-width="0.7"/>
<text x="299.90" y="218.22" font-size="6.6" text-anchor="end" class="tk">0.7</text>
<path d="M302.50 215.87h1.0M407.90 215.87h-1.0" stroke="#707070" stroke-width="0.7"/>
<text x="299.90" y="203.46" font-size="6.6" text-anchor="end" class="tk">0.8</text>
<path d="M302.50 201.11h1.0M407.90 201.11h-1.0" stroke="#707070" stroke-width="0.7"/>
<text x="299.90" y="188.70" font-size="6.6" text-anchor="end" class="tk">0.9</text>
<path d="M302.50 186.35h1.0M407.90 186.35h-1.0" stroke="#707070" stroke-width="0.7"/>
<text x="299.90" y="173.94" font-size="6.6" text-anchor="end" class="tk">1</text>
<path d="M302.50 171.59h1.0M407.90 171.59h-1.0" stroke="#707070" stroke-width="0.7"/>
<text x="355.20" y="295.20" font-size="8.5" text-anchor="middle" class="t">Number of transmit angles</text>
<text transform="translate(286.60,221.55) rotate(-90)" x="0" y="0" font-size="8.4" text-anchor="middle" class="t">gCNR</text>
<polyline points="306.55,227.00 318.72,228.00 330.88,225.40 343.04,226.60 355.20,227.60 367.36,229.00 379.52,229.60 391.68,228.60 403.85,230.60" fill="none" stroke="#000000" stroke-width="1.65" stroke-linejoin="round"/>
<polyline points="306.55,257.00 318.72,262.40 330.88,249.40 343.04,253.60 355.20,256.40 367.36,259.00 379.52,261.00 391.68,264.40 403.85,267.60" fill="none" stroke="#0072BD" stroke-width="1.6" stroke-linejoin="round"/>
<polyline points="306.55,183.10 318.72,182.30 330.88,189.60 343.04,190.80 355.20,190.40 367.36,189.70 379.52,189.10 391.68,188.70 403.85,189.20" fill="none" stroke="#EDB120" stroke-width="1.55" stroke-linejoin="round"/>
<polyline points="306.55,179.00 318.72,179.20 330.88,185.20 343.04,186.50 355.20,185.10 367.36,184.20 379.52,183.70 391.68,183.20 403.85,183.30" fill="none" stroke="#D95319" stroke-width="1.5" stroke-linejoin="round"/>
<circle cx="306.55" cy="179.00" r="2.85" fill="none" stroke="#D95319" stroke-width="1.25"/>
<circle cx="318.72" cy="179.20" r="2.85" fill="none" stroke="#D95319" stroke-width="1.25"/>
<circle cx="330.88" cy="185.20" r="2.85" fill="none" stroke="#D95319" stroke-width="1.25"/>
<circle cx="343.04" cy="186.50" r="2.85" fill="none" stroke="#D95319" stroke-width="1.25"/>
<circle cx="355.20" cy="185.10" r="2.85" fill="none" stroke="#D95319" stroke-width="1.25"/>
<circle cx="367.36" cy="184.20" r="2.85" fill="none" stroke="#D95319" stroke-width="1.25"/>
<circle cx="379.52" cy="183.70" r="2.85" fill="none" stroke="#D95319" stroke-width="1.25"/>
<circle cx="391.68" cy="183.20" r="2.85" fill="none" stroke="#D95319" stroke-width="1.25"/>
<circle cx="403.85" cy="183.30" r="2.85" fill="none" stroke="#D95319" stroke-width="1.25"/>
<polyline points="306.55,185.30 318.72,185.30 330.88,197.60 343.04,200.00 355.20,196.40 367.36,194.40 379.52,193.40 391.68,192.40 403.85,193.40" fill="none" stroke="#7E2F8E" stroke-width="1.5" stroke-linejoin="round"/>
<path d="M303.35 185.30H309.75M306.55 182.10V188.50" stroke="#7E2F8E" stroke-width="1.2"/>
<path d="M315.52 185.30H321.92M318.72 182.10V188.50" stroke="#7E2F8E" stroke-width="1.2"/>
<path d="M327.68 197.60H334.08M330.88 194.40V200.80" stroke="#7E2F8E" stroke-width="1.2"/>
<path d="M339.84 200.00H346.24M343.04 196.80V203.20" stroke="#7E2F8E" stroke-width="1.2"/>
<path d="M352.00 196.40H358.40M355.20 193.20V199.60" stroke="#7E2F8E" stroke-width="1.2"/>
<path d="M364.16 194.40H370.56M367.36 191.20V197.60" stroke="#7E2F8E" stroke-width="1.2"/>
<path d="M376.32 193.40H382.72M379.52 190.20V196.60" stroke="#7E2F8E" stroke-width="1.2"/>
<path d="M388.48 192.40H394.88M391.68 189.20V195.60" stroke="#7E2F8E" stroke-width="1.2"/>
<path d="M400.65 193.40H407.05M403.85 190.20V196.60" stroke="#7E2F8E" stroke-width="1.2"/>
<polyline points="306.55,173.30 318.72,173.30 330.88,175.60 343.04,175.90 355.20,177.00 367.36,177.00 379.52,177.40 391.68,177.70 403.85,178.20" fill="none" stroke="#77AC30" stroke-width="1.5" stroke-linejoin="round"/>
<polygon points="306.55,170.05 307.83,171.09 309.37,171.68 309.10,173.30 309.37,174.93 307.83,175.51 306.55,176.55 305.28,175.51 303.74,174.93 304.00,173.30 303.74,171.68 305.28,171.09" fill="#77AC30" stroke="#77AC30" stroke-width="0.4"/>
<polygon points="318.72,170.05 319.99,171.09 321.53,171.68 321.27,173.30 321.53,174.93 319.99,175.51 318.72,176.55 317.44,175.51 315.90,174.93 316.17,173.30 315.90,171.68 317.44,171.09" fill="#77AC30" stroke="#77AC30" stroke-width="0.4"/>
<polygon points="330.88,172.35 332.15,173.39 333.69,173.97 333.43,175.60 333.69,177.22 332.15,177.81 330.88,178.85 329.60,177.81 328.06,177.22 328.33,175.60 328.06,173.97 329.60,173.39" fill="#77AC30" stroke="#77AC30" stroke-width="0.4"/>
<polygon points="343.04,172.65 344.31,173.69 345.85,174.28 345.59,175.90 345.85,177.53 344.31,178.11 343.04,179.15 341.76,178.11 340.22,177.53 340.49,175.90 340.22,174.28 341.76,173.69" fill="#77AC30" stroke="#77AC30" stroke-width="0.4"/>
<polygon points="355.20,173.75 356.47,174.79 358.01,175.38 357.75,177.00 358.01,178.62 356.47,179.21 355.20,180.25 353.93,179.21 352.39,178.62 352.65,177.00 352.39,175.38 353.93,174.79" fill="#77AC30" stroke="#77AC30" stroke-width="0.4"/>
<polygon points="367.36,173.75 368.64,174.79 370.18,175.38 369.91,177.00 370.18,178.62 368.64,179.21 367.36,180.25 366.09,179.21 364.55,178.62 364.81,177.00 364.55,175.38 366.09,174.79" fill="#77AC30" stroke="#77AC30" stroke-width="0.4"/>
<polygon points="379.52,174.15 380.80,175.19 382.34,175.78 382.07,177.40 382.34,179.03 380.80,179.61 379.52,180.65 378.25,179.61 376.71,179.03 376.97,177.40 376.71,175.78 378.25,175.19" fill="#77AC30" stroke="#77AC30" stroke-width="0.4"/>
<polygon points="391.68,174.45 392.96,175.49 394.50,176.07 394.23,177.70 394.50,179.32 392.96,179.91 391.68,180.95 390.41,179.91 388.87,179.32 389.13,177.70 388.87,176.07 390.41,175.49" fill="#77AC30" stroke="#77AC30" stroke-width="0.4"/>
<polygon points="403.85,174.95 405.12,175.99 406.66,176.57 406.40,178.20 406.66,179.82 405.12,180.41 403.85,181.45 402.57,180.41 401.03,179.82 401.30,178.20 401.03,176.57 402.57,175.99" fill="#77AC30" stroke="#77AC30" stroke-width="0.4"/>
<polyline points="306.55,175.30 318.72,175.60 330.88,178.70 343.04,180.00 355.20,180.90 367.36,181.00 379.52,181.20 391.68,181.70 403.85,182.30" fill="none" stroke="#FF0000" stroke-width="1.85" stroke-linejoin="round"/>
<rect x="302.50" y="168.20" width="105.40" height="106.70" fill="none" stroke="#707070" stroke-width="0.8"/>
<line x1="451.78" y1="168.20" x2="451.78" y2="274.90" stroke="#e0e0e0" stroke-width="0.7"/>
<line x1="472.15" y1="168.20" x2="472.15" y2="274.90" stroke="#e0e0e0" stroke-width="0.7"/>
<line x1="492.51" y1="168.20" x2="492.51" y2="274.90" stroke="#e0e0e0" stroke-width="0.7"/>
<line x1="512.88" y1="168.20" x2="512.88" y2="274.90" stroke="#e0e0e0" stroke-width="0.7"/>
<line x1="533.24" y1="168.20" x2="533.24" y2="274.90" stroke="#e0e0e0" stroke-width="0.7"/>
<line x1="441.60" y1="274.90" x2="547.50" y2="274.90" stroke="#e0e0e0" stroke-width="0.7"/>
<line x1="441.60" y1="248.22" x2="547.50" y2="248.22" stroke="#e0e0e0" stroke-width="0.7"/>
<line x1="441.60" y1="221.55" x2="547.50" y2="221.55" stroke="#e0e0e0" stroke-width="0.7"/>
<line x1="441.60" y1="194.88" x2="547.50" y2="194.88" stroke="#e0e0e0" stroke-width="0.7"/>
<line x1="441.60" y1="168.20" x2="547.50" y2="168.20" stroke="#e0e0e0" stroke-width="0.7"/>
<text x="451.78" y="284.20" font-size="6.6" text-anchor="middle" class="tk">30</text>
<path d="M451.78 274.90v-1.0M451.78 168.20v1.0" stroke="#707070" stroke-width="0.7"/>
<text x="472.15" y="284.20" font-size="6.6" text-anchor="middle" class="tk">40</text>
<path d="M472.15 274.90v-1.0M472.15 168.20v1.0" stroke="#707070" stroke-width="0.7"/>
<text x="492.51" y="284.20" font-size="6.6" text-anchor="middle" class="tk">50</text>
<path d="M492.51 274.90v-1.0M492.51 168.20v1.0" stroke="#707070" stroke-width="0.7"/>
<text x="512.88" y="284.20" font-size="6.6" text-anchor="middle" class="tk">60</text>
<path d="M512.88 274.90v-1.0M512.88 168.20v1.0" stroke="#707070" stroke-width="0.7"/>
<text x="533.24" y="284.20" font-size="6.6" text-anchor="middle" class="tk">70</text>
<path d="M533.24 274.90v-1.0M533.24 168.20v1.0" stroke="#707070" stroke-width="0.7"/>
<text x="439.00" y="277.25" font-size="6.6" text-anchor="end" class="tk">1</text>
<path d="M441.60 274.90h1.0M547.50 274.90h-1.0" stroke="#707070" stroke-width="0.7"/>
<text x="439.00" y="250.57" font-size="6.6" text-anchor="end" class="tk">1.5</text>
<path d="M441.60 248.22h1.0M547.50 248.22h-1.0" stroke="#707070" stroke-width="0.7"/>
<text x="439.00" y="223.90" font-size="6.6" text-anchor="end" class="tk">2</text>
<path d="M441.60 221.55h1.0M547.50 221.55h-1.0" stroke="#707070" stroke-width="0.7"/>
<text x="439.00" y="197.22" font-size="6.6" text-anchor="end" class="tk">2.5</text>
<path d="M441.60 194.88h1.0M547.50 194.88h-1.0" stroke="#707070" stroke-width="0.7"/>
<text x="439.00" y="170.55" font-size="6.6" text-anchor="end" class="tk">3</text>
<path d="M441.60 168.20h1.0M547.50 168.20h-1.0" stroke="#707070" stroke-width="0.7"/>
<text x="494.55" y="295.20" font-size="8.5" text-anchor="middle" class="t">Number of transmit angles</text>
<text transform="translate(425.70,221.55) rotate(-90)" x="0" y="0" font-size="8.4" text-anchor="middle" class="t">sSNR</text>
<polyline points="445.67,225.00 457.89,225.60 470.11,225.40 482.33,225.20 494.55,225.60 506.77,226.00 518.99,226.40 531.21,226.60 543.43,227.00" fill="none" stroke="#000000" stroke-width="1.65" stroke-linejoin="round"/>
<polyline points="445.67,255.40 457.89,258.60 470.11,251.60 482.33,253.00 494.55,254.60 506.77,256.40 518.99,258.00 531.21,259.60 543.43,261.00" fill="none" stroke="#0072BD" stroke-width="1.6" stroke-linejoin="round"/>
<polyline points="445.67,233.00 457.89,234.40 470.11,234.00 482.33,234.50 494.55,236.50 506.77,237.50 518.99,239.00 531.21,240.80 543.43,243.60" fill="none" stroke="#EDB120" stroke-width="1.55" stroke-linejoin="round"/>
<polyline points="445.67,233.00 457.89,234.40 470.11,234.00 482.33,234.00 494.55,236.00 506.77,236.40 518.99,237.00 531.21,237.60 543.43,238.00" fill="none" stroke="#D95319" stroke-width="1.5" stroke-linejoin="round"/>
<circle cx="445.67" cy="233.00" r="2.85" fill="none" stroke="#D95319" stroke-width="1.25"/>
<circle cx="457.89" cy="234.40" r="2.85" fill="none" stroke="#D95319" stroke-width="1.25"/>
<circle cx="470.11" cy="234.00" r="2.85" fill="none" stroke="#D95319" stroke-width="1.25"/>
<circle cx="482.33" cy="234.00" r="2.85" fill="none" stroke="#D95319" stroke-width="1.25"/>
<circle cx="494.55" cy="236.00" r="2.85" fill="none" stroke="#D95319" stroke-width="1.25"/>
<circle cx="506.77" cy="236.40" r="2.85" fill="none" stroke="#D95319" stroke-width="1.25"/>
<circle cx="518.99" cy="237.00" r="2.85" fill="none" stroke="#D95319" stroke-width="1.25"/>
<circle cx="531.21" cy="237.60" r="2.85" fill="none" stroke="#D95319" stroke-width="1.25"/>
<circle cx="543.43" cy="238.00" r="2.85" fill="none" stroke="#D95319" stroke-width="1.25"/>
<polyline points="445.67,245.00 457.89,245.40 470.11,244.00 482.33,244.00 494.55,245.60 506.77,246.00 518.99,246.40 531.21,247.00 543.43,247.60" fill="none" stroke="#7E2F8E" stroke-width="1.5" stroke-linejoin="round"/>
<path d="M442.47 245.00H448.87M445.67 241.80V248.20" stroke="#7E2F8E" stroke-width="1.2"/>
<path d="M454.69 245.40H461.09M457.89 242.20V248.60" stroke="#7E2F8E" stroke-width="1.2"/>
<path d="M466.91 244.00H473.31M470.11 240.80V247.20" stroke="#7E2F8E" stroke-width="1.2"/>
<path d="M479.13 244.00H485.53M482.33 240.80V247.20" stroke="#7E2F8E" stroke-width="1.2"/>
<path d="M491.35 245.60H497.75M494.55 242.40V248.80" stroke="#7E2F8E" stroke-width="1.2"/>
<path d="M503.57 246.00H509.97M506.77 242.80V249.20" stroke="#7E2F8E" stroke-width="1.2"/>
<path d="M515.79 246.40H522.19M518.99 243.20V249.60" stroke="#7E2F8E" stroke-width="1.2"/>
<path d="M528.01 247.00H534.41M531.21 243.80V250.20" stroke="#7E2F8E" stroke-width="1.2"/>
<path d="M540.23 247.60H546.63M543.43 244.40V250.80" stroke="#7E2F8E" stroke-width="1.2"/>
<polyline points="445.67,174.40 457.89,184.60 470.11,186.00 482.33,187.00 494.55,193.60 506.77,197.00 518.99,201.60 531.21,208.00 543.43,214.40" fill="none" stroke="#77AC30" stroke-width="1.5" stroke-linejoin="round"/>
<polygon points="445.67,171.15 446.95,172.19 448.49,172.78 448.22,174.40 448.49,176.03 446.95,176.61 445.67,177.65 444.40,176.61 442.86,176.03 443.12,174.40 442.86,172.78 444.40,172.19" fill="#77AC30" stroke="#77AC30" stroke-width="0.4"/>
<polygon points="457.89,181.35 459.17,182.39 460.71,182.97 460.44,184.60 460.71,186.22 459.17,186.81 457.89,187.85 456.62,186.81 455.08,186.22 455.34,184.60 455.08,182.97 456.62,182.39" fill="#77AC30" stroke="#77AC30" stroke-width="0.4"/>
<polygon points="470.11,182.75 471.39,183.79 472.93,184.38 472.66,186.00 472.93,187.62 471.39,188.21 470.11,189.25 468.84,188.21 467.30,187.62 467.56,186.00 467.30,184.38 468.84,183.79" fill="#77AC30" stroke="#77AC30" stroke-width="0.4"/>
<polygon points="482.33,183.75 483.61,184.79 485.15,185.38 484.88,187.00 485.15,188.62 483.61,189.21 482.33,190.25 481.06,189.21 479.52,188.62 479.78,187.00 479.52,185.38 481.06,184.79" fill="#77AC30" stroke="#77AC30" stroke-width="0.4"/>
<polygon points="494.55,190.35 495.82,191.39 497.36,191.97 497.10,193.60 497.36,195.22 495.82,195.81 494.55,196.85 493.28,195.81 491.74,195.22 492.00,193.60 491.74,191.97 493.28,191.39" fill="#77AC30" stroke="#77AC30" stroke-width="0.4"/>
<polygon points="506.77,193.75 508.04,194.79 509.58,195.38 509.32,197.00 509.58,198.62 508.04,199.21 506.77,200.25 505.49,199.21 503.95,198.62 504.22,197.00 503.95,195.38 505.49,194.79" fill="#77AC30" stroke="#77AC30" stroke-width="0.4"/>
<polygon points="518.99,198.35 520.26,199.39 521.80,199.97 521.54,201.60 521.80,203.22 520.26,203.81 518.99,204.85 517.71,203.81 516.17,203.22 516.44,201.60 516.17,199.97 517.71,199.39" fill="#77AC30" stroke="#77AC30" stroke-width="0.4"/>
<polygon points="531.21,204.75 532.48,205.79 534.02,206.38 533.76,208.00 534.02,209.62 532.48,210.21 531.21,211.25 529.93,210.21 528.39,209.62 528.66,208.00 528.39,206.38 529.93,205.79" fill="#77AC30" stroke="#77AC30" stroke-width="0.4"/>
<polygon points="543.43,211.15 544.70,212.19 546.24,212.78 545.98,214.40 546.24,216.03 544.70,216.61 543.43,217.65 542.15,216.61 540.61,216.03 540.88,214.40 540.61,212.78 542.15,212.19" fill="#77AC30" stroke="#77AC30" stroke-width="0.4"/>
<polyline points="445.67,198.00 457.89,205.00 470.11,207.00 482.33,207.60 494.55,211.00 506.77,213.00 518.99,216.30 531.21,220.70 543.43,226.40" fill="none" stroke="#FF0000" stroke-width="1.85" stroke-linejoin="round"/>
<rect x="441.60" y="168.20" width="105.90" height="106.70" fill="none" stroke="#707070" stroke-width="0.8"/>
<text x="284.5" y="157.2" font-size="9" letter-spacing="0.35" text-anchor="middle" class="t">(a)</text>
<text x="284.5" y="309.7" font-size="9" letter-spacing="0.35" text-anchor="middle" class="t">(b)</text>
<line x1="36.6" y1="7.4" x2="57.0" y2="7.4" stroke="#000000" stroke-width="1.65"/>
<text class="lg" x="59.3" y="9.7" font-size="8.0" textLength="16.0" lengthAdjust="spacingAndGlyphs">DAS</text>
<line x1="79.0" y1="7.4" x2="99.6" y2="7.4" stroke="#0072BD" stroke-width="1.6"/>
<text class="lg" x="102.0" y="9.7" font-size="8.0" textLength="23.0" lengthAdjust="spacingAndGlyphs">DMAS</text>
<line x1="129" y1="7.4" x2="149.5" y2="7.4" stroke="#EDB120" stroke-width="1.55"/>
<text class="lg" x="152.0" y="9.7" font-size="8.0" textLength="21.4" lengthAdjust="spacingAndGlyphs">CMSB</text>
<text class="lg" y="9.7" font-size="8.0"><tspan x="177.70">(</tspan><tspan x="180.30" font-style="italic">δ</tspan><tspan x="188.80" textLength="9.1" lengthAdjust="spacingAndGlyphs">0.7</tspan><tspan x="198.30">)</tspan></text>
<path d="M185.10 6.4H189.40M185.10 8.5H189.40" stroke="#111" stroke-width="0.65"/>
<line x1="206.9" y1="7.4" x2="227.8" y2="7.4" stroke="#D95319" stroke-width="1.5"/>
<circle cx="217.40" cy="7.40" r="3.2" fill="none" stroke="#D95319" stroke-width="1.25"/>
<text class="lg" x="229.5" y="9.7" font-size="8.0" textLength="22.1" lengthAdjust="spacingAndGlyphs">CMSB</text>
<text class="lg" y="9.7" font-size="8.0"><tspan x="255.00">(</tspan><tspan x="257.60" font-style="italic">δ</tspan><tspan x="266.10" textLength="9.1" lengthAdjust="spacingAndGlyphs">1.3</tspan><tspan x="275.60">)</tspan></text>
<path d="M262.40 6.4H266.70M262.40 8.5H266.70" stroke="#111" stroke-width="0.65"/>
<line x1="284.8" y1="7.4" x2="305.9" y2="7.4" stroke="#7E2F8E" stroke-width="1.5"/>
<path d="M292.00 7.40H298.40M295.20 4.20V10.60" stroke="#7E2F8E" stroke-width="1.2"/>
<text class="lg" x="307.7" y="9.7" font-size="8.0" textLength="47.0" lengthAdjust="spacingAndGlyphs">LOCw-CMSB</text>
<line x1="359.1" y1="7.4" x2="379.8" y2="7.4" stroke="#77AC30" stroke-width="1.5"/>
<polygon points="369.40,4.10 370.60,5.32 372.26,5.75 371.80,7.40 372.26,9.05 370.60,9.48 369.40,10.70 368.20,9.48 366.54,9.05 367.00,7.40 366.54,5.75 368.20,5.32" fill="#77AC30" stroke="#77AC30" stroke-width="0.4"/>
<text class="lg" x="382.0" y="9.7" font-size="8.0" textLength="22.2" lengthAdjust="spacingAndGlyphs">CMSB</text>
<text class="lg" y="9.7" font-size="8.0"><tspan x="406.50">(</tspan><tspan x="409.30" font-style="italic">δ</tspan><tspan x="418.60" font-style="italic">δ</tspan><tspan x="422.20" dy="1.5" font-size="5.4" font-style="italic" textLength="5.6" lengthAdjust="spacingAndGlyphs">ac</tspan><tspan x="428.70" dy="-1.5">)</tspan></text>
<path d="M413.90 6.4H418.60M413.90 8.5H418.60" stroke="#111" stroke-width="0.65"/>
<line x1="435.8" y1="7.4" x2="457.1" y2="7.4" stroke="#FF0000" stroke-width="1.85"/>
<text class="lg" x="458.6" y="9.7" font-size="8.0" textLength="47.3" lengthAdjust="spacingAndGlyphs">LOCw-CMSB</text>
<text class="lg" y="9.7" font-size="8.0"><tspan x="508.10">(</tspan><tspan x="510.90" font-style="italic">δ</tspan><tspan x="520.20" font-style="italic">δ</tspan><tspan x="523.80" dy="1.5" font-size="5.4" font-style="italic" textLength="5.6" lengthAdjust="spacingAndGlyphs">ac</tspan><tspan x="530.30" dy="-1.5">)</tspan></text>
<path d="M515.50 6.4H520.20M515.50 8.5H520.20" stroke="#111" stroke-width="0.65"/>
</svg></body></html>
